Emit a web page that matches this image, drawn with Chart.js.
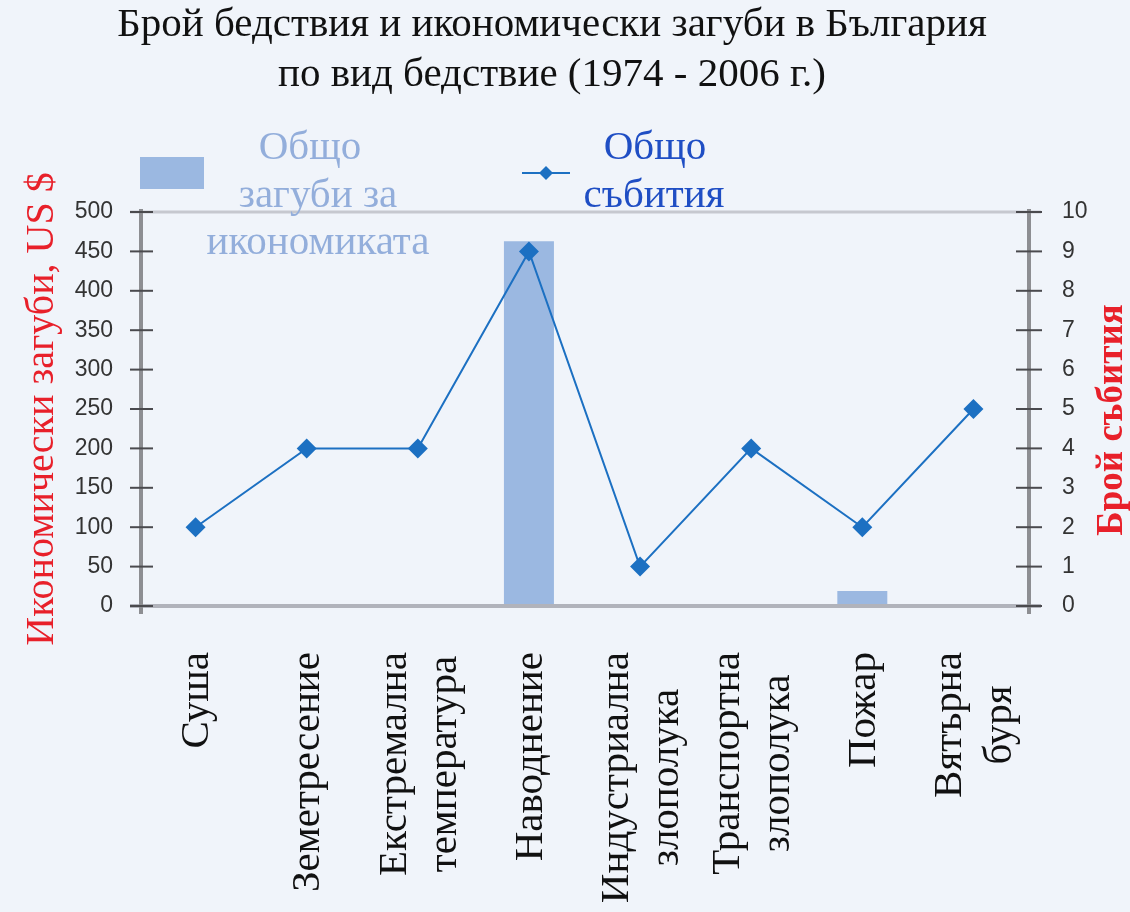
<!DOCTYPE html>
<html lang="bg">
<head>
<meta charset="UTF-8">
<title>Брой бедствия и икономически загуби в България</title>
<script src="https://cdn.jsdelivr.net/npm/chart.js"></script>
<style>
  html, body { margin: 0; padding: 0; background: #f0f4fa; }
  #kutia { position: relative; width: 1130px; height: 912px; }
</style>
</head>
<body>
<div id="kutia"><canvas id="grafika" width="1130" height="912"></canvas></div>
<script>
// данни
const vidove = [['Суша'], ['Земетресение'], ['Екстремална', 'температура'], ['Наводнение'],
                ['Индустриална', 'злополука'], ['Транспортна', 'злополука'], ['Пожар'], ['Вятърна', 'буря']];
const zagubi = [0, 0, 0, 463, 0, 0, 19, 0];      // US $
const sabitia = [2, 4, 4, 9, 1, 4, 2, 5];        // брой
const zaglavie = ['Брой бедствия и икономически загуби в България', 'по вид бедствие (1974 - 2006 г.)'];
const legendaZagubi = ['Общо', 'загуби за', 'икономиката'];
const legendaSabitia = ['Общо', 'събития'];

const SERIF = '"Liberation Serif", "DejaVu Serif", serif';
const SANS = '"Liberation Sans", Arial, sans-serif';
const cvqtStalb = '#9bb8e1';
const cvqtLinia = '#1c70c2';
const cherven = '#e8202a';

// оси, чертички, надписи по x, заглавие и легенда
const osi = {
    id: 'osi',
    afterDatasetsDraw(chart) {
        const ctx = chart.ctx;
        const a = chart.chartArea;
        const yl = chart.scales.y;
        const yr = chart.scales.y2;
        ctx.save();
        // горна и долна линия
        ctx.strokeStyle = '#c6c8cf';
        ctx.lineWidth = 3;
        ctx.beginPath(); ctx.moveTo(a.left - 10, a.top); ctx.lineTo(a.right + 12, a.top); ctx.stroke();
        ctx.strokeStyle = '#b1b3bb';
        ctx.lineWidth = 4;
        ctx.beginPath(); ctx.moveTo(a.left - 10, a.bottom); ctx.lineTo(a.right + 12, a.bottom); ctx.stroke();
        // вертикални оси
        ctx.strokeStyle = '#8d8e92';
        ctx.lineWidth = 4;
        ctx.beginPath(); ctx.moveTo(a.left + 1, a.top - 3); ctx.lineTo(a.left + 1, a.bottom + 8); ctx.stroke();
        ctx.beginPath(); ctx.moveTo(a.right, a.top - 3); ctx.lineTo(a.right, a.bottom + 8); ctx.stroke();
        // чертички
        ctx.strokeStyle = '#4a4a4e';
        ctx.lineWidth = 2;
        yl.ticks.forEach(t => {
            const p = yl.getPixelForValue(t.value);
            ctx.beginPath(); ctx.moveTo(a.left - 10, p); ctx.lineTo(a.left + 13, p); ctx.stroke();
        });
        yr.ticks.forEach(t => {
            const p = yr.getPixelForValue(t.value);
            ctx.beginPath(); ctx.moveTo(a.right - 13, p); ctx.lineTo(a.right + 13, p); ctx.stroke();
        });
        ctx.restore();
    },
    afterDraw(chart) {
        const ctx = chart.ctx;
        const xs = chart.scales.x;
        ctx.save();
        // заглавие
        ctx.font = '41px ' + SERIF;
        ctx.fillStyle = '#111';
        ctx.textAlign = 'center';
        ctx.textBaseline = 'middle';
        ctx.fillText(zaglavie[0], 552, 25);
        ctx.fillText(zaglavie[1], 552, 75);

        // надписи на категориите, завъртени на 90°, редовете центрирани един спрямо друг
        vidove.forEach((redove, i) => {
            const p = xs.getPixelForValue(i);
            const shir = Math.max(...redove.map(r => ctx.measureText(r).width));
            redove.forEach((red, j) => {
                const cx = p + 2 + (j - (redove.length - 1) / 2) * 50;
                ctx.save();
                ctx.translate(cx, xs.top + 46 + shir / 2);
                ctx.rotate(-Math.PI / 2);
                ctx.fillText(red, 0, 0);
                ctx.restore();
            });
        });

        // легенда - стълбове
        ctx.fillStyle = cvqtStalb;
        ctx.fillRect(140, 157, 64, 32);
        ctx.fillStyle = '#93aedb';
        ctx.fillText(legendaZagubi[0], 310, 148);
        ctx.fillText(legendaZagubi[1], 318, 196);
        ctx.fillText(legendaZagubi[2], 318, 243);
        // легенда - линия
        ctx.strokeStyle = cvqtLinia;
        ctx.lineWidth = 2;
        ctx.beginPath(); ctx.moveTo(522, 173); ctx.lineTo(570, 173); ctx.stroke();
        ctx.fillStyle = cvqtLinia;
        ctx.beginPath();
        ctx.moveTo(546, 166); ctx.lineTo(553, 173); ctx.lineTo(546, 180); ctx.lineTo(539, 173);
        ctx.closePath(); ctx.fill();
        ctx.fillStyle = '#1f4ec4';
        ctx.fillText(legendaSabitia[0], 655, 148);
        ctx.fillText(legendaSabitia[1], 654, 196);
        // заглавие на дясната ос
        ctx.translate(1112, 420);
        ctx.rotate(-Math.PI / 2);
        ctx.font = 'bold 37px ' + SERIF;
        ctx.fillStyle = cherven;
        ctx.fillText('Брой събития', 0, 0);
        ctx.restore();
    }
};

const ctx = document.getElementById('grafika').getContext('2d');
new Chart(ctx, {
    type: 'bar',
    data: {
        labels: vidove,
        datasets: [{
            type: 'line',
            label: 'Общо събития',
            data: sabitia,
            yAxisID: 'y2',
            borderColor: cvqtLinia,
            borderWidth: 2,
            backgroundColor: cvqtLinia,
            pointStyle: 'rectRot',
            pointRadius: 10,
            pointBorderWidth: 0,
            tension: 0,
            order: 0
        }, {
            label: 'Общо загуби за икономиката',
            data: zagubi,
            yAxisID: 'y',
            backgroundColor: cvqtStalb,
            barPercentage: 0.45,
            categoryPercentage: 1,
            order: 1
        }]
    },
    options: {
        responsive: false,
        animation: false,
        layout: { padding: { top: 212, left: 0, right: 0, bottom: 0 } },
        plugins: {
            legend: { display: false },
            tooltip: { enabled: false },
            title: { display: false }
        },
        scales: {
            x: {
                grid: { display: false, drawTicks: false },
                border: { display: false },
                ticks: { display: false },
                afterFit: s => { s.height = 306; }
            },
            y: {
                position: 'left',
                min: 0, max: 500,
                grid: { display: false, drawTicks: false },
                border: { display: false },
                ticks: { stepSize: 50, padding: 27, color: '#333', font: { family: SANS, size: 23 } },
                title: {
                    display: true,
                    text: 'Икономически загуби, US $',
                    color: cherven,
                    font: { family: SERIF, size: 40 },
                    padding: { top: 18, bottom: 0 }
                },
                afterFit: s => { s.width = 140; }
            },
            y2: {
                position: 'right',
                min: 0, max: 10,
                grid: { display: false, drawTicks: false },
                border: { display: false },
                ticks: { stepSize: 1, padding: 33, color: '#333', font: { family: SANS, size: 23 } },
                afterFit: s => { s.width = 101; }
            }
        }
    },
    plugins: [osi]
});
</script>
</body>
</html>
